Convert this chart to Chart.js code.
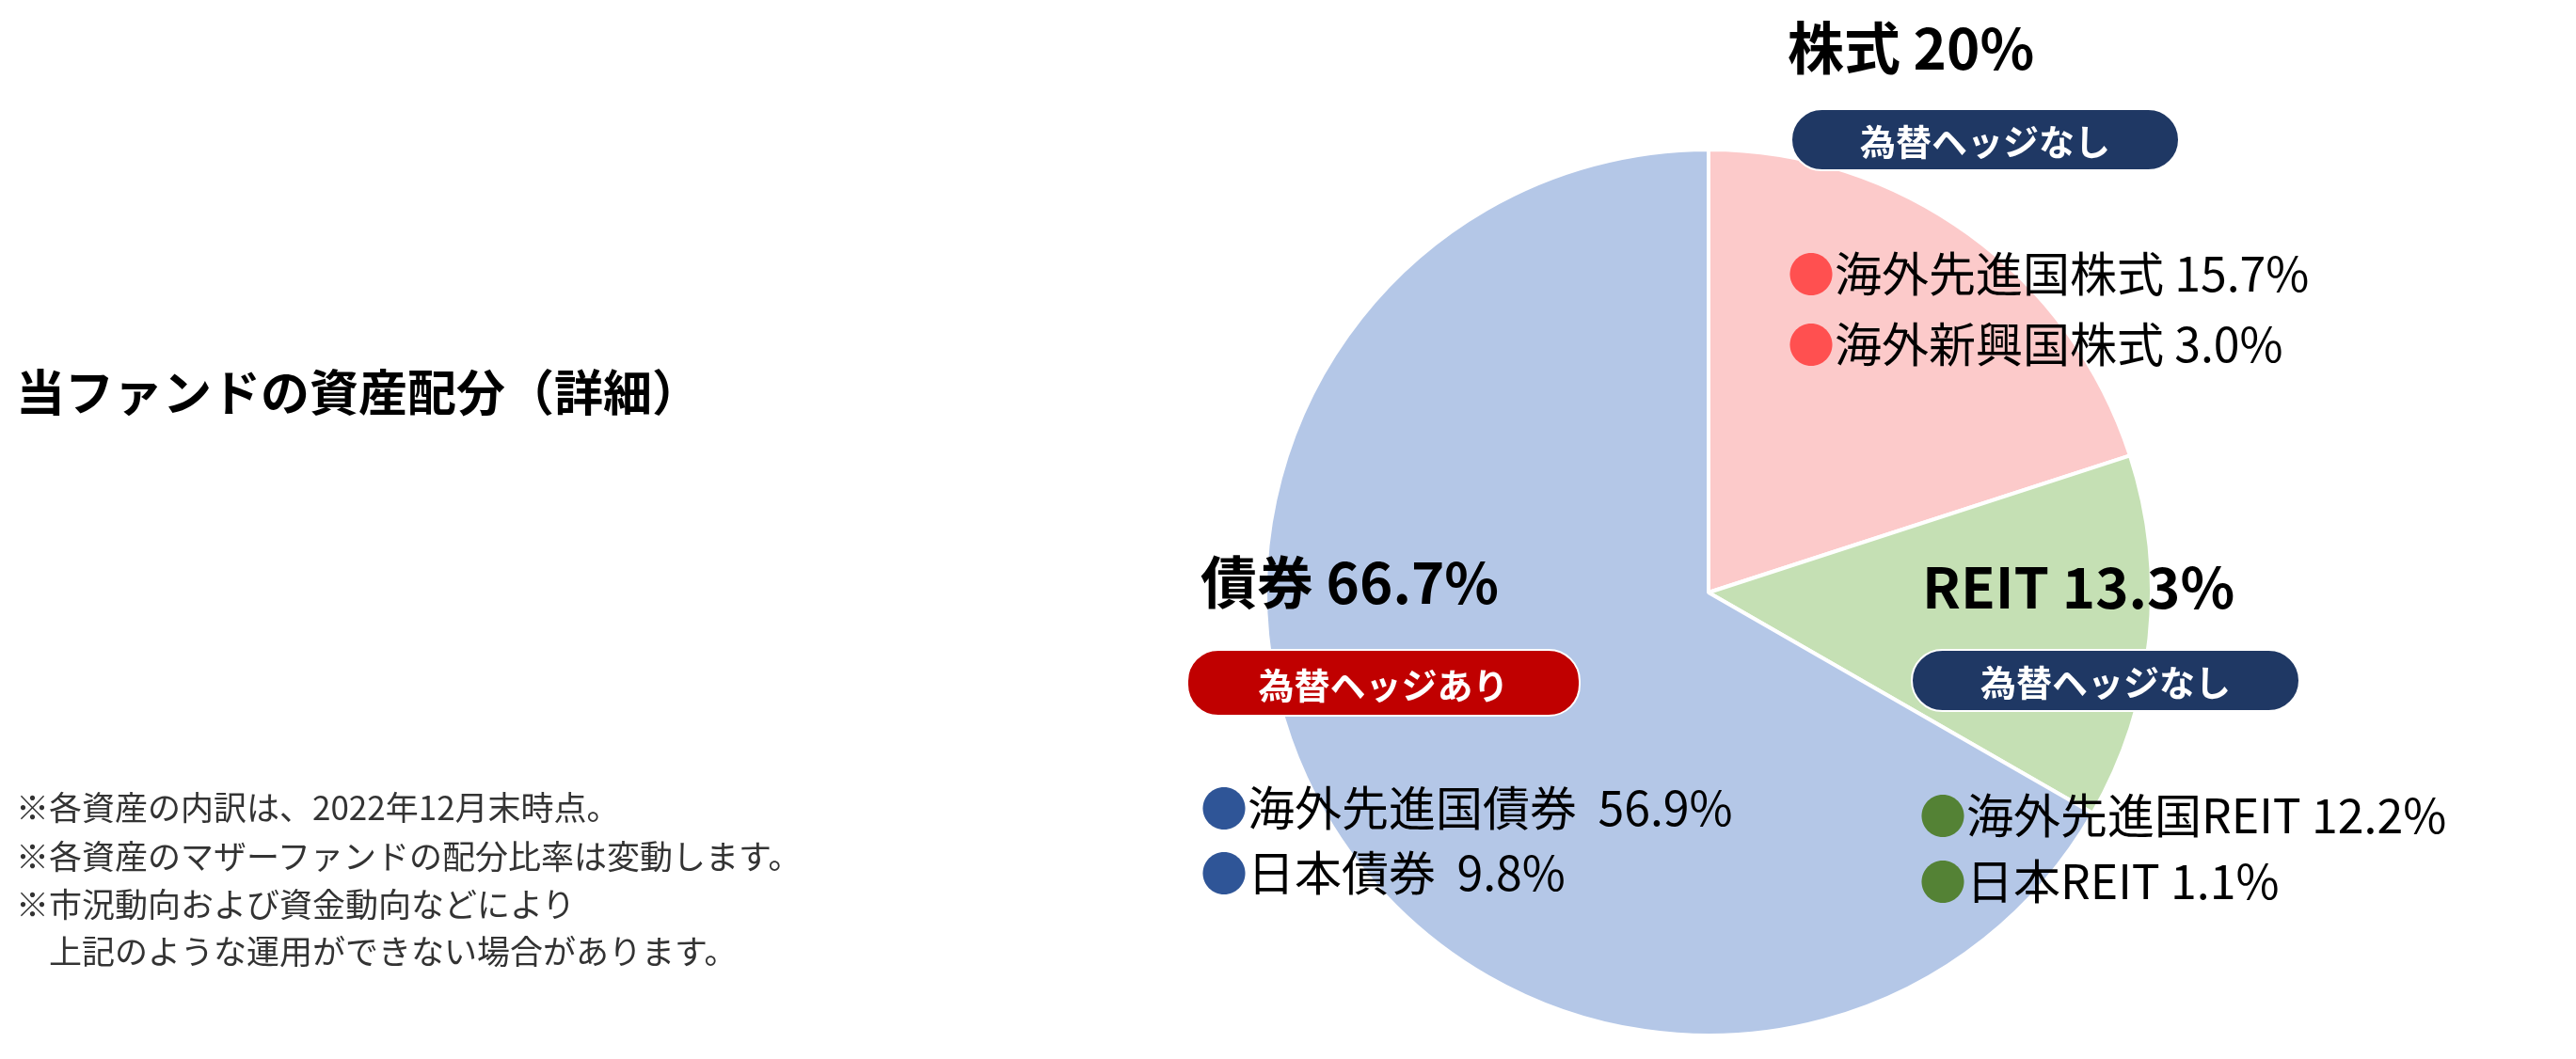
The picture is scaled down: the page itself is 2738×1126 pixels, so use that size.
<!DOCTYPE html>
<html><head><meta charset="utf-8">
<script src="https://cdn.jsdelivr.net/npm/chart.js@4"></script>
<style>
body{margin:0;width:2738px;height:1126px;background:#fff;font-family:"Noto Sans CJK JP",sans-serif;overflow:hidden;position:relative}
#wrap{position:absolute;left:0;top:0;width:2738px;height:1126px}
.t{position:absolute;transform:translateY(-50%);white-space:pre;color:#000}
.b{position:absolute;border-radius:34px;color:#fff;font-weight:bold;font-size:38px;display:flex;align-items:center;justify-content:center;border:2px solid #fff}
</style></head><body>
<div id="wrap"><canvas id="c" width="2738" height="1126"></canvas></div>
<script>
const categories=["株式","REIT","債券"];
const values=[20,13.3,66.7];
const colors=["#FCCACA","#C5E0B4","#B4C7E7"];
const stockItems=["海外先進国株式 15.7%","海外新興国株式 3.0%"];
const reitItems=["海外先進国REIT 12.2%","日本REIT 1.1%"];
const bondItems=["海外先進国債券  56.9%","日本債券  9.8%"];
const notes=["※各資産の内訳は、2022年12月末時点。","※各資産のマザーファンドの配分比率は変動します。","※市況動向および資金動向などにより","　上記のような運用ができない場合があります。"];

new Chart(document.getElementById('c'),{type:'pie',
 data:{labels:categories,datasets:[{data:values,backgroundColor:colors,borderColor:'#fff',borderWidth:4}]},
 options:{responsive:false,animation:false,layout:{padding:{left:1343,right:449,top:157,bottom:23}},
  plugins:{legend:{display:false},tooltip:{enabled:false}}}});

const W=document.getElementById('wrap');
function txt(s,x,y,size,bold,color){const d=document.createElement('div');d.className='t';d.style.left=x+'px';d.style.top=y+'px';d.style.fontSize=size+'px';if(bold)d.style.fontWeight='bold';if(color)d.style.color=color;d.innerHTML=s;W.appendChild(d);}
function badge(s,x,y,w,h,bg){const d=document.createElement('div');d.className='b';Object.assign(d.style,{left:x+'px',top:y+'px',width:w+'px',height:h+'px',background:bg});d.textContent=s;W.appendChild(d);}
function item(s,x,y,dot){txt('<span style="color:'+dot+'">●</span>'+s,x,y,50,false);}

txt("当ファンドの資産配分（詳細）",17,414,52,true);
[856,908,959,1009].forEach((y,i)=>txt(notes[i],17,y,35,false,'#333'));
txt(categories[0]+" "+values[0]+"%",1900,47,60,true);
badge("為替ヘッジなし",1903,115,410,63,"#1F3864");
stockItems.forEach((s,i)=>item(s,1900,[288,363][i],"#FF5050"));
txt(categories[1]+" "+values[1]+"%",2043,620,60,true);
badge("為替ヘッジなし",2031,690,410,63,"#1F3864");
reitItems.forEach((s,i)=>item(s,2040,[864,934][i],"#548235"));
txt(categories[2]+" "+values[2]+"%",1276,615,60,true);
badge("為替ヘッジあり",1261,690,415,68,"#C00000");
bondItems.forEach((s,i)=>item(s,1276,[856,925][i],"#2F5597"));
</script></body></html>
